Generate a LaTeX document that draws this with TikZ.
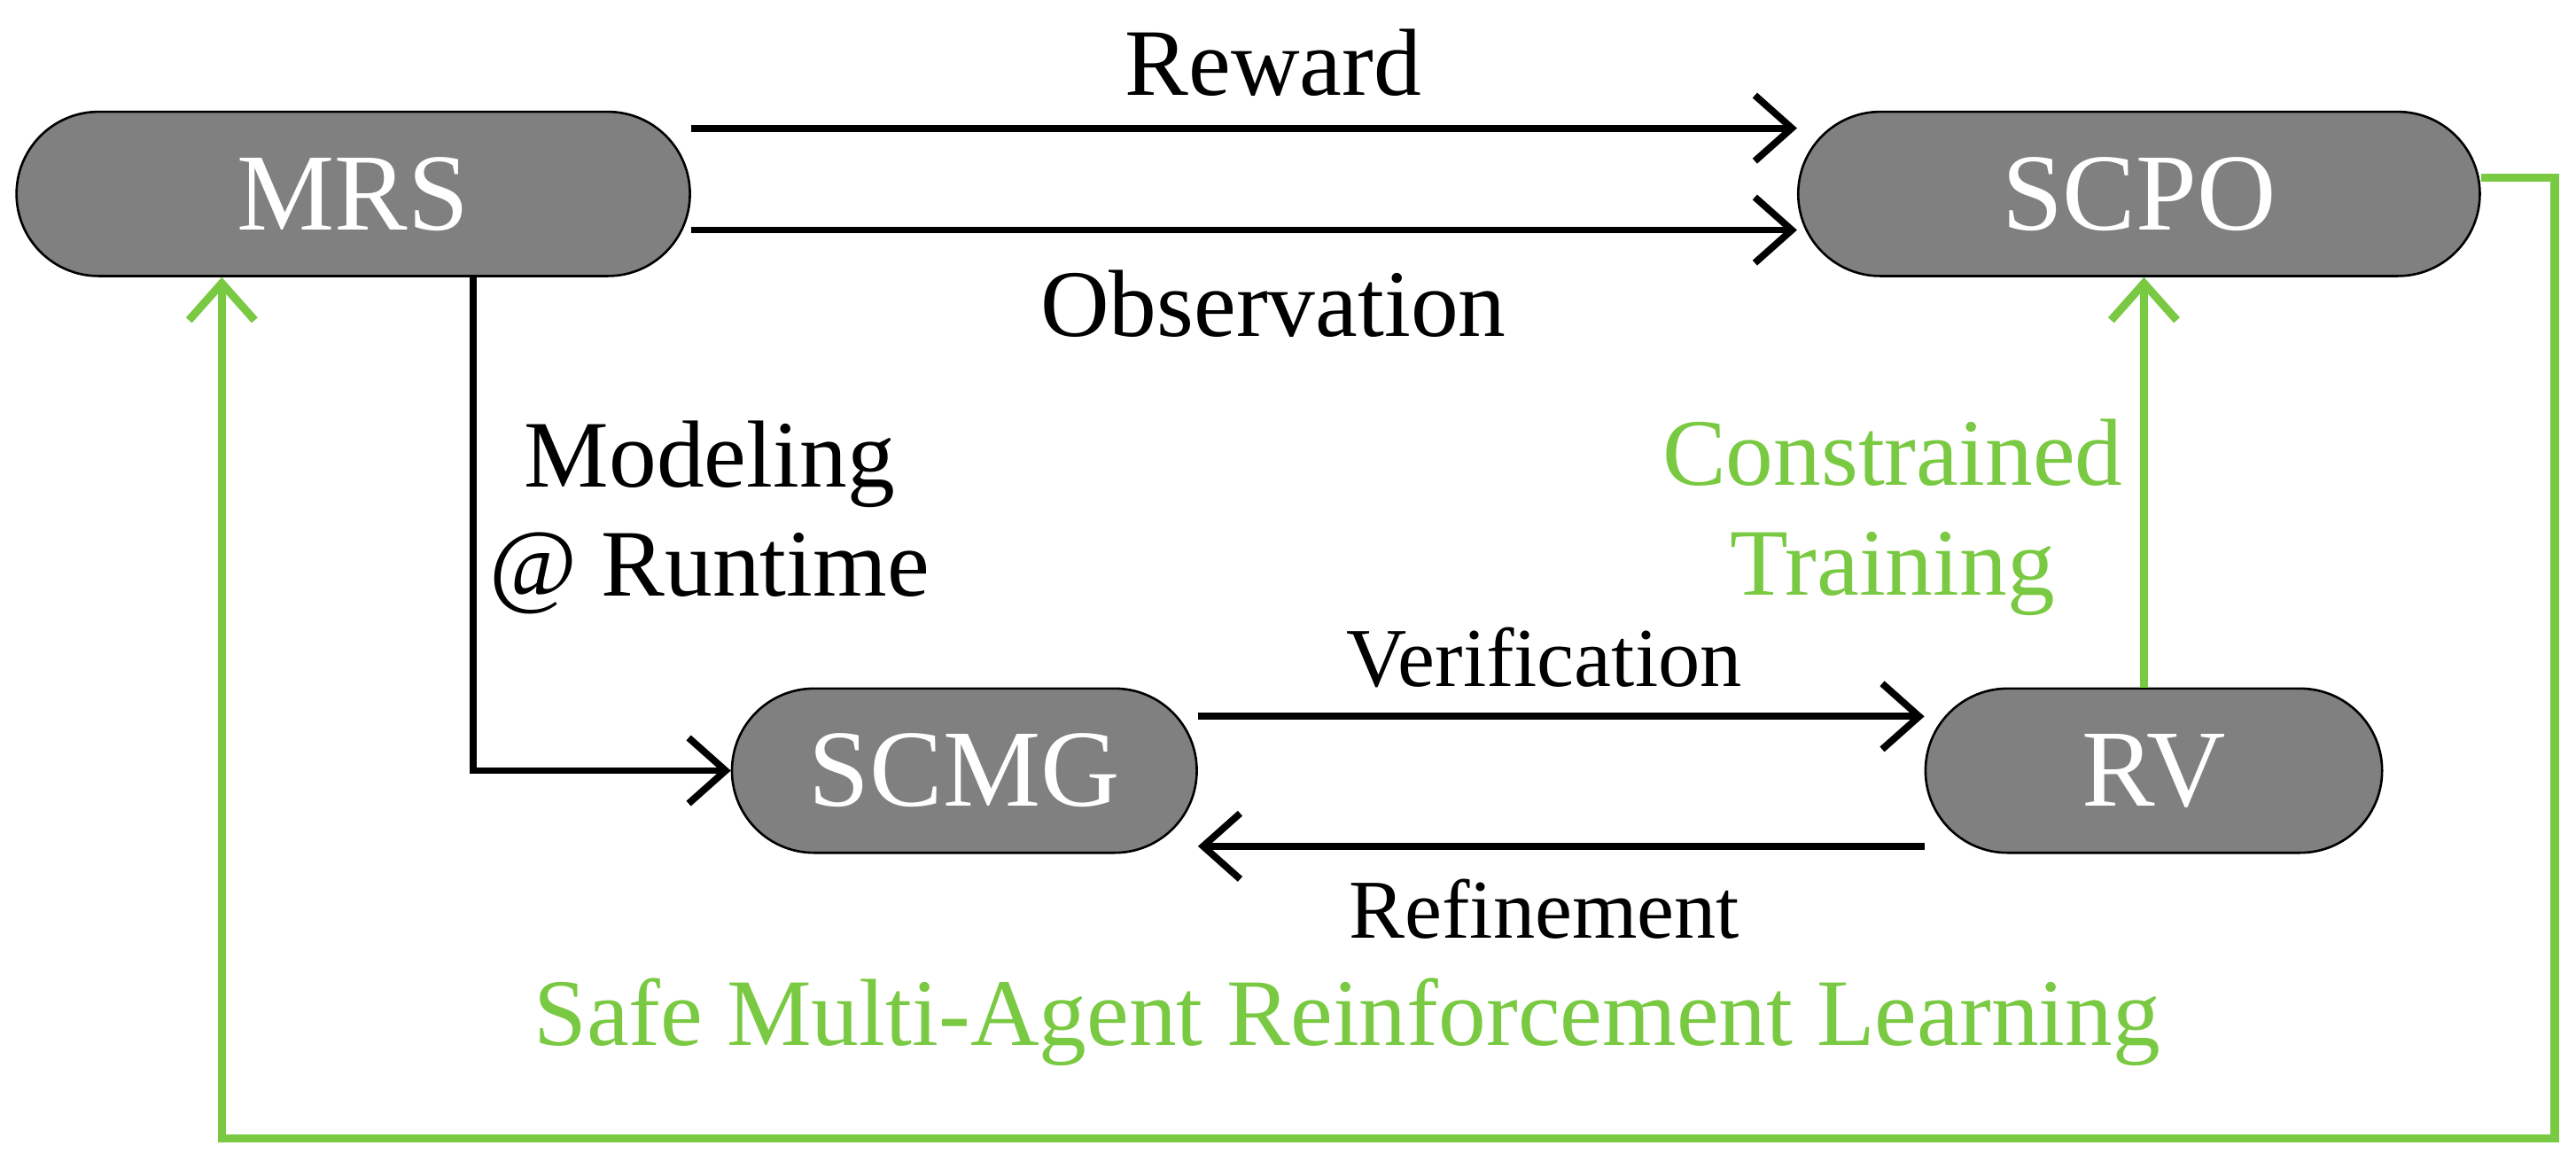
\documentclass[tikz,border=0pt]{standalone}
\usepackage{fontspec}
\setmainfont{Liberation Serif}
\usetikzlibrary{arrows.meta,positioning}
\definecolor{safegreen}{RGB}{122,201,67}
\begin{document}
\begin{tikzpicture}[x=0.02cm,y=-0.02cm]
\tikzstyle{main}=[rectangle, rounded corners=1cm, minimum height=2cm, fill=black!50, draw=black, line width=0.8pt, text=white, font=\fontsize{38}{40}\selectfont]
\tikzstyle{connect}=[-{Straight Barb[length=4.5mm,width=8mm]}, line width=2.4pt]
\tikzstyle{loop}=[connect, draw=safegreen, line width=2.8pt]
\tikzstyle{lbl}=[font=\fontsize{33}{38}\selectfont, align=center]
\tikzstyle{small}=[lbl, font=\fontsize{29}{34}\selectfont]
\useasboundingbox (0,0) rectangle (1568,711);
  \node[main, minimum width=8.2cm] (mrs) at (215,118) {MRS};
  \node[main, minimum width=8.3cm] (scpo) at (1302,118) {SCPO};
  \node[main, minimum width=5.66cm] (scmg) at (587,469) {SCMG};
  \node[main, minimum width=5.56cm] (rv) at (1311,469) {RV};
  \draw[connect] (mrs.east |- 0,78) -- (scpo.west |- 0,78);
  \draw[connect] (mrs.east |- 0,140) -- (scpo.west |- 0,140);
  \draw[connect] (mrs.south -| 288,0) |- (scmg.west);
  \draw[connect] (scmg.east |- 0,436) -- (rv.west |- 0,436);
  \draw[connect] (rv.west |- 0,515) -- (scmg.east |- 0,515);
  \draw[loop] (rv.north -| 1305,0) -- (scpo.south -| 1305,0);
  \coordinate (c1) at (1555,108);
  \coordinate (c2) at (1555,693);
  \coordinate (c3) at (135,693);
  \draw[loop] (scpo.east |- c1) -- (c1) -- (c2) -- (c3) -- (mrs.south -| c3);
  \node[lbl] (reward) at (775,38) {Reward};
  \node[lbl] (obs) at (775,185) {Observation};
  \node[lbl] (model) at (432,315) {Modeling\\@ Runtime};
  \node[small] (verif) at (940,400) {Verification};
  \node[small] (refine) at (940,553) {Refinement};
  \node[lbl, text=safegreen] (train) at (1152,315) {Constrained\\Training};
  \node[lbl, text=safegreen] (smarl) at (820,622) {Safe Multi-Agent Reinforcement Learning};
\end{tikzpicture}
\end{document}
